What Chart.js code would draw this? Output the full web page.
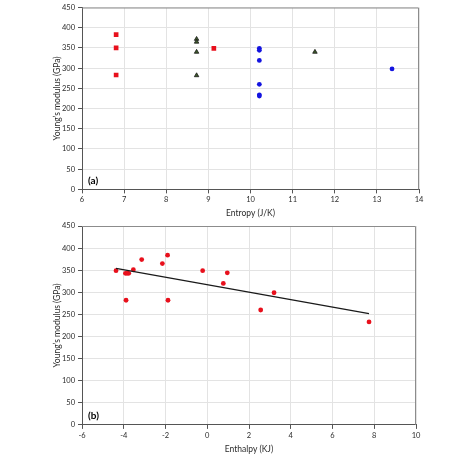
<!DOCTYPE html>
<html>
<head>
<meta charset="utf-8">
<script src="https://cdn.jsdelivr.net/npm/chart.js@4/dist/chart.umd.min.js"></script>
<style>
  body { margin: 0; background: #fff; }
  #wrapA { position: absolute; left: 0; top: 0; }
  #wrapB { position: absolute; left: 0; top: 218px; }
</style>
</head>
<body>
<div id="wrapA"><canvas id="chartA" width="474" height="219"></canvas></div>
<div id="wrapB"><canvas id="chartB" width="474" height="237"></canvas></div>
<script>
// (a) Young's modulus vs entropy, three groups
const entropyRed = [6.81, 6.81, 6.81, 9.13];
const modulusRed = [383, 350, 283, 349];
const entropyTri = [8.72, 8.72, 8.72, 8.72, 11.53];
const modulusTri = [372, 365, 340, 282, 340];
const entropyBlue = [10.21, 10.21, 10.21, 10.21, 10.21, 10.21, 13.36];
const modulusBlue = [349, 344, 319, 260, 234, 231, 298];

// (b) Young's modulus vs enthalpy
const enthalpy = [-4.37, -3.92, -3.84, -3.76, -3.54, -3.14, -3.89, -2.15, -1.9, -1.88, -0.22, 0.77, 0.96, 2.56, 3.2, 7.75];
const modulusB = [349, 343, 343, 343, 351, 374, 282, 365, 384, 282, 349, 320, 344, 260, 299, 233];
const trendX = [-4.37, 7.75];
const trendY = [354, 252];

const yTicks = { min: 0, max: 450, step: 50 };
const xTicksA = { min: 6, max: 14, step: 1 };
const xTicksB = { min: -6, max: 10, step: 2 };

const pts = (xs, ys) => xs.map((x, i) => ({ x: x, y: ys[i] }));

Chart.defaults.font.family = 'Lato, "Liberation Sans", sans-serif';
Chart.defaults.color = '#2b2b2b';

// gray frame round the plot area plus the panel letter
function framePlugin(letter) {
    return {
        id: 'frame',
        beforeDatasetsDraw(chart) {
            const a = chart.chartArea, ctx = chart.ctx;
            ctx.save();
            ctx.strokeStyle = '#8c8c8c';
            ctx.lineWidth = 1;
            ctx.beginPath();
            ctx.moveTo(a.left, a.top + 0.5);
            ctx.lineTo(a.right - 0.5, a.top + 0.5);
            ctx.lineTo(a.right - 0.5, a.bottom);
            ctx.stroke();
            ctx.fillStyle = '#000';
            ctx.font = 'bold 10px Lato, "Liberation Sans", sans-serif';
            ctx.textBaseline = 'middle';
            ctx.fillText(letter, a.left + 6, a.bottom - 9);
            ctx.restore();
        }
    };
}

function axes(xt, xTitle, xPad) {
    return {
        x: {
            type: 'linear', min: xt.min, max: xt.max,
            ticks: { stepSize: xt.step, font: { size: 7.5 }, padding: 2 },
            grid: { color: '#e3e3e3', tickLength: 4, tickColor: '#555' },
            border: { color: '#555' },
            title: { display: true, text: xTitle, font: { size: 8.5 }, padding: xPad }
        },
        y: {
            min: yTicks.min, max: yTicks.max,
            ticks: { stepSize: yTicks.step, font: { size: 7.5 }, padding: 3 },
            grid: { color: '#e3e3e3', tickLength: 4, tickColor: '#555' },
            border: { color: '#555' },
            title: { display: true, text: 'Young\u2019s modulus (GPa)', font: { size: 8.5 }, padding: { top: 2, bottom: 0 } },
            afterFit: function (s) { s.width = 32; }
        }
    };
}

const commonPlugins = { legend: { display: false }, tooltip: { enabled: false } };

new Chart(document.getElementById('chartA'), {
    type: 'scatter',
    data: {
        datasets: [
            {
                data: pts(entropyRed, modulusRed),
                pointStyle: 'rect', pointRadius: 3.3,
                backgroundColor: '#e8101c', borderColor: '#e8101c', borderWidth: 0
            },
            {
                data: pts(entropyTri, modulusTri),
                pointStyle: 'triangle', pointRadius: 2.6,
                backgroundColor: '#3d5a2a', borderColor: '#1a1a1a', borderWidth: 0.8
            },
            {
                data: pts(entropyBlue, modulusBlue),
                pointStyle: 'circle', pointRadius: 2.4,
                backgroundColor: '#1414e0', borderColor: '#1414e0', borderWidth: 0
            }
        ]
    },
    options: {
        responsive: false,
        animation: false,
        layout: { padding: { left: 50, right: 55, top: 0, bottom: 0 } },
        scales: axes(xTicksA, 'Entropy (J/K)', { top: 1.6, bottom: 0.8 }),
        plugins: commonPlugins
    },
    plugins: [framePlugin('(a)')]
});

new Chart(document.getElementById('chartB'), {
    type: 'scatter',
    data: {
        datasets: [
            {
                type: 'line',
                data: pts(trendX, trendY),
                borderColor: '#1a1a1a', borderWidth: 1.3,
                pointRadius: 0, fill: false
            },
            {
                data: pts(enthalpy, modulusB),
                pointStyle: 'circle', pointRadius: 2.4,
                backgroundColor: '#e8101c', borderColor: '#e8101c', borderWidth: 0
            }
        ]
    },
    options: {
        responsive: false,
        animation: false,
        layout: { padding: { left: 50, right: 58, top: 8, bottom: 0 } },
        scales: axes(xTicksB, 'Enthalpy (KJ)', { top: 2.3, bottom: 0.6 }),
        plugins: commonPlugins
    },
    plugins: [framePlugin('(b)')]
});
</script>
</body>
</html>
